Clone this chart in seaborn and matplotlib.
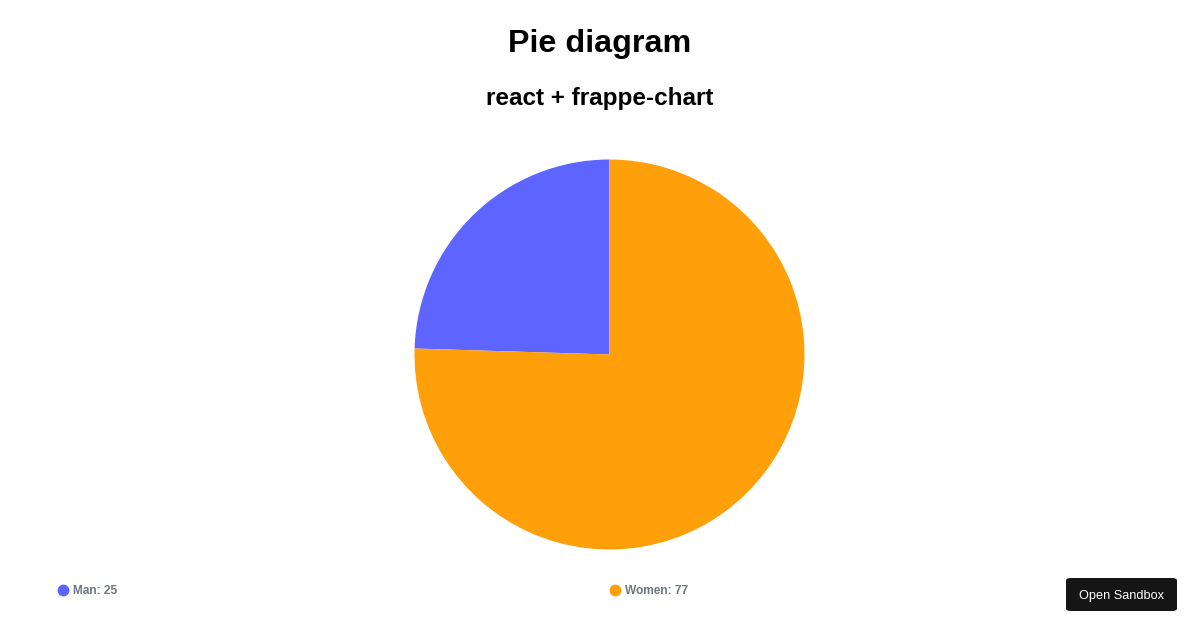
import matplotlib
matplotlib.use("Agg")
import matplotlib.pyplot as plt
import seaborn as sns
from matplotlib.patches import FancyBboxPatch

sns.set_theme(style="white")
plt.rcParams['font.family'] = ['Liberation Sans', 'DejaVu Sans']

labels = ["Man", "Women"]
values = [25, 77]
colors = ["#5E64FF", "#FFA00A"]

W, H = 1200, 630
fig = plt.figure(figsize=(12, 6.3), dpi=100)
fig.patch.set_facecolor("white")

cx, cy, r = 609.5, 354.5, 195
ax = fig.add_axes([(cx - r) / W, (H - cy - r) / H, 2 * r / W, 2 * r / H])
ax.pie(values, colors=colors, startangle=90, counterclock=True,
       wedgeprops=dict(linewidth=0, edgecolor="none"), radius=1)
ax.set_xlim(-1, 1)
ax.set_ylim(-1, 1)
ax.set_aspect("equal")
ax.axis("off")

fig.text(600 / W, 1 - 52 / H, "Pie diagram", ha="center", va="baseline",
         fontsize=23.2, fontweight="bold", color="black")
fig.text(600 / W, 1 - 104.5 / H, "react + frappe-chart", ha="center", va="baseline",
         fontsize=17.5, fontweight="bold", color="black")

# legend
leg_x = [63, 615]
for x, lab, val, col in zip(leg_x, labels, values, colors):
    fig.add_artist(plt.Line2D([x / W], [1 - 589.5 / H], marker="o", markersize=7.5,
                              color=col, linestyle="none", transform=fig.transFigure))
    fig.text((x + 10) / W, 1 - 593.5 / H, f"{lab}: {val}", ha="left", va="baseline",
             fontsize=8.6, fontweight="bold", color="#6C7680")

# Open Sandbox button
bx0, by0, bx1, by1 = 1066, 578, 1177, 611
btn = FancyBboxPatch((bx0 / W, 1 - by1 / H), (bx1 - bx0) / W, (by1 - by0) / H,
                     boxstyle="round,pad=0,rounding_size=0.004",
                     transform=fig.transFigure, facecolor="#151515", edgecolor="none")
fig.add_artist(btn)
fig.text((bx0 + bx1) / 2 / W, 1 - 599 / H, "Open Sandbox", ha="center",
         va="baseline", fontsize=9.2, color="white")

fig.savefig("out.png", dpi=100, facecolor="white")
